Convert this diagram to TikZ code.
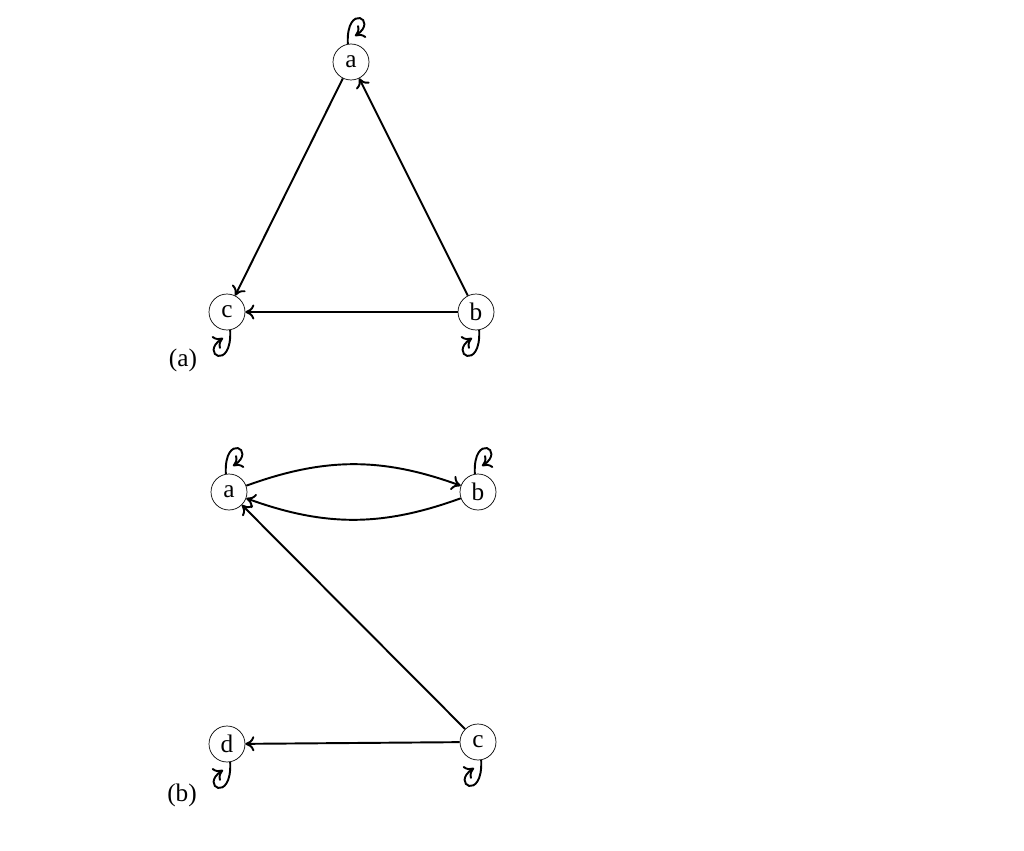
\documentclass[tikz,border=0pt]{standalone}
\usepackage{fontspec}
\setmainfont{Liberation Serif}
\usetikzlibrary{arrows.meta}

\begin{document}
\begin{tikzpicture}[
x=0.02cm, y=0.02cm,
>={To[length=1.8mm,width=3mm]}
]

\tikzstyle{st} = [draw, shape=circle, line width=0.4pt, minimum size=7.2mm, inner sep=0pt, font=\Large]
\tikzstyle{e} = [->, line width=1.1pt]
\tikzstyle{lbl} = [font=\Large]
\tikzstyle{lup} = [to path={(\tikztostart.100) .. controls +(-2,42) and +(24,16) .. ([shift={(4,26)}]\tikztostart.center)}]
\tikzstyle{ldown} = [to path={(\tikztostart.-80) .. controls +(2,-42) and +(-24,-16) .. ([shift={(-4,-26)}]\tikztostart.center)}]

\useasboundingbox (0,0) rectangle (1024,-851);

% (a)
\node[st] (a1) at (351,-62) {a};
\node[st] (c1) at (227,-312) {c};
\node[st] (b1) at (476,-312) {b};
\node[lbl] (la) at (183,-360) {(a)};

\draw[e] (a1) to (c1);
\draw[e] (b1) to (a1);
\draw[e] (b1) to (c1);
\draw[e] (a1) to[lup] (a1);
\draw[e] (c1) to[ldown] (c1);
\draw[e] (b1) to[ldown] (b1);

% (b)
\node[st] (a2) at (229,-492) {a};
\node[st] (b2) at (478,-492) {b};
\node[st] (d2) at (227,-744) {d};
\node[st] (c2) at (478,-742) {c};
\node[lbl] (lb) at (182,-795) {(b)};

\draw[e] (a2) to[bend left=20] (b2);
\draw[e] (b2) to[bend left=20] (a2);
\draw[e] (c2) to (a2);
\draw[e] (c2) to (d2);
\draw[e] (a2) to[lup] (a2);
\draw[e] (b2) to[lup] (b2);
\draw[e] (d2) to[ldown] (d2);
\draw[e] (c2) to[ldown] (c2);

\end{tikzpicture}
\end{document}
